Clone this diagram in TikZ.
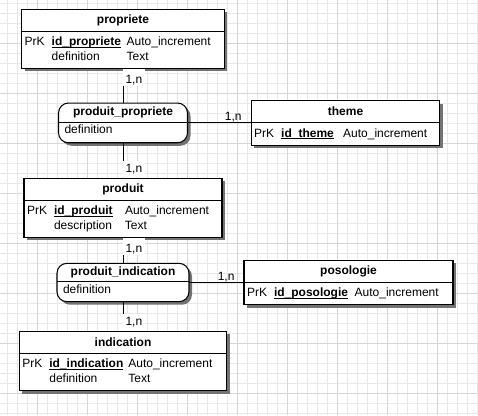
\documentclass[tikz,border=0pt]{standalone}
\usepackage{fontspec}
\setmainfont{Liberation Sans}
\usetikzlibrary{positioning, shadows}

\newcommand{\boite}[5]{\vbox{\hbox{\parbox[c][#2][c]{#1}{\centering\bfseries #3}}\hrule height 0.8pt\hbox{\parbox[c][#4][t]{#1}{#5}}}}
\newcommand{\souligne}[1]{\setbox0\hbox{\bfseries #1}\rlap{\rule[-1.4pt]{\wd0}{0.75pt}}\box0}
\newcommand{\cle}[3]{\rule{0pt}{10.5pt}\hspace*{2.25pt}\makebox[20.25pt][l]{PrK}\makebox[#1][l]{\souligne{#2}}#3}
\newcommand{\attribut}[3]{\hspace*{22.5pt}\makebox[#1][l]{#2}#3}

\begin{document}
\begin{tikzpicture}[
			x=0.75pt, y=-0.75pt,
			grille/.style={draw=black!9, line width=0.75pt},
			grillemaj/.style={draw=black!16, line width=0.75pt},
			entite/.style={draw, line width=0.8pt, fill=white, inner sep=0pt, outer sep=0pt, font=\fontsize{9}{11.25}\selectfont, drop shadow={shadow xshift=2.25pt, shadow yshift=-2.25pt, fill=black!55, opacity=1}},
			association/.style={entite, rounded corners=7.5pt},
			lien/.style={draw, line width=0.75pt},
			cardinalite/.style={font=\fontsize{9}{11.25}\selectfont, inner xsep=2.25pt, inner ysep=0pt},
			cardhaut/.style={cardinalite, fill=white, anchor=north west, xshift=-0.75pt, text height=11.25pt, text depth=1.5pt},
			cardbas/.style={cardinalite, fill=white, anchor=south west, xshift=-0.75pt, text height=9pt, text depth=4pt},
			cardcote/.style={cardinalite, anchor=base east, xshift=-4.5pt, yshift=1.8pt},
		]

		\useasboundingbox (0,0) rectangle (478,415);
		\fill[white] (0,0) rectangle (478,415);
		\foreach \x in {7,17,...,477} \draw[grille] (\x,0) -- (\x,415);
		\foreach \y in {3,13,...,413} \draw[grille] (0,\y) -- (478,\y);
		\foreach \x in {37,87,...,437} \draw[grillemaj] (\x,0) -- (\x,415);
		\foreach \y in {43,93,...,393} \draw[grillemaj] (0,\y) -- (478,\y);

		\node[entite, anchor=north] (propriete) at (123,9.3) {\boite{152pt}{16pt}{propriete}{27.5pt}{\cle{56.25pt}{id\_propriete}{Auto\_increment}\\\attribut{56.25pt}{definition}{Text}}};
		\node[association, below=26pt of propriete] (produit-propriete) {\boite{96.75pt}{14pt}{produit\_propriete}{15pt}{\rule{0pt}{8pt}\hspace*{4.5pt}definition}};
		\node[entite, right=47.75pt of produit-propriete] (theme) {\boite{141.5pt}{16pt}{theme}{16.5pt}{\cle{46.5pt}{id\_theme}{Auto\_increment}}};
		\node[entite, below=26.7pt of produit-propriete] (produit) {\boite{148.5pt}{16pt}{produit}{27.5pt}{\cle{53.25pt}{id\_produit}{Auto\_increment}\\\attribut{53.25pt}{description}{Text}}};
		\node[association, below=19.4pt of produit] (produit-indication) {\boite{99pt}{13.5pt}{produit\_indication}{14.5pt}{\rule{0pt}{8pt}\hspace*{4.5pt}definition}};
		\node[entite, right=41.25pt of produit-indication] (posologie) {\boite{156.75pt}{16pt}{posologie}{16.5pt}{\cle{60.5pt}{id\_posologie}{Auto\_increment}}};
		\node[entite, below=22.3pt of produit-indication] (indication) {\boite{155.5pt}{16pt}{indication}{27.5pt}{\cle{59.25pt}{id\_indication}{Auto\_increment}\\\attribut{59.25pt}{definition}{Text}}};

		\draw[lien] (propriete.south) -- node[cardhaut, pos=0] (card-propriete) {1,n} (produit-propriete.north);
		\draw[lien] (produit-propriete.south) -- node[cardbas, pos=1] (card-produit-a) {1,n} (produit.north);
		\draw[lien] (produit-propriete.east) -- node[cardcote, pos=1] (card-theme) {1,n} (theme.west);
		\draw[lien] (produit.south) -- node[cardhaut, pos=0] (card-produit-b) {1,n} (produit-indication.north);
		\draw[lien] (produit-indication.south) -- node[cardbas, pos=1] (card-indication) {1,n} (indication.north);
		\draw[lien] (produit-indication.east) -- node[cardcote, pos=1] (card-posologie) {1,n} (posologie.west);

		\end{tikzpicture}
\end{document}
